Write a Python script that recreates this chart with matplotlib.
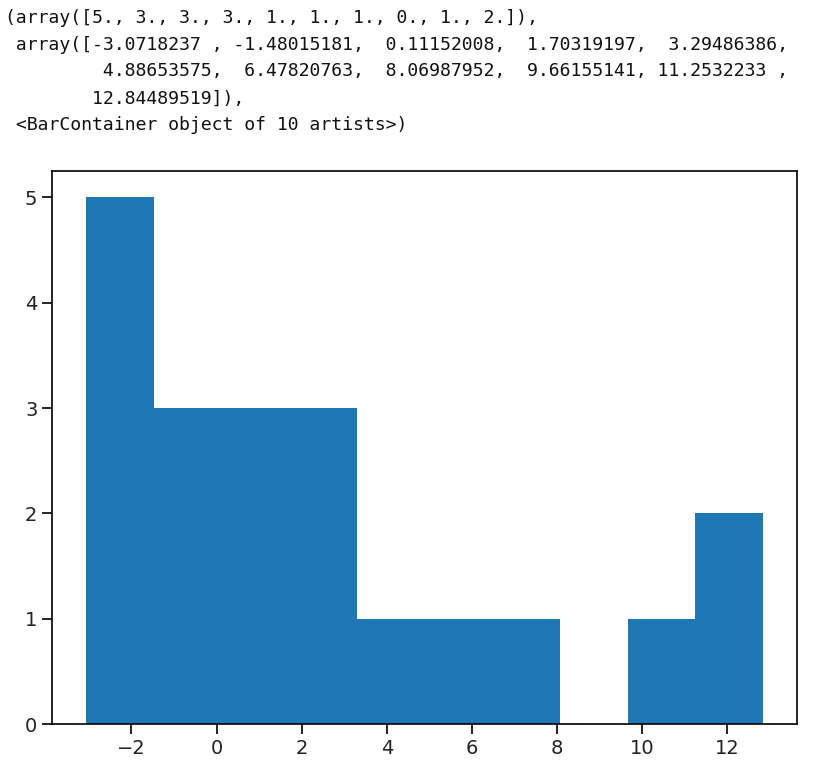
import matplotlib.pyplot as plt
import numpy as np

# histogram output (counts and bin edges)
counts = np.array([5., 3., 3., 3., 1., 1., 1., 0., 1., 2.])
edges = np.array([-3.0718237, -1.48015181, 0.11152008, 1.70319197, 3.29486386,
                  4.88653575, 6.47820763, 8.06987952, 9.66155141, 11.2532233,
                  12.84489519])

# notebook repr printed above the chart
out_lines = [
    "(array([5., 3., 3., 3., 1., 1., 1., 0., 1., 2.]),",
    " array([-3.0718237 , -1.48015181,  0.11152008,  1.70319197,  3.29486386,",
    "         4.88653575,  6.47820763,  8.06987952,  9.66155141, 11.2532233 ,",
    "        12.84489519]),",
    " <BarContainer object of 10 artists>)",
]

W, H = 829, 775
fig = plt.figure(figsize=(W / 100, H / 100), dpi=100)

for i, line in enumerate(out_lines):
    y = 18 + 26.75 * i
    fig.text(5 / W, 1 - y / H, line, family='DejaVu Sans Mono', fontsize=13.1,
             va='center', ha='left', color='#111111')

ax = fig.add_axes([52 / W, 51 / H, 745 / W, 553 / H])
ax.hist(edges[:-1], bins=edges, weights=counts, color='#1f77b4')

ax.tick_params(labelsize=14, length=7, width=1.2, labelcolor='#222222')
for s in ax.spines.values():
    s.set_linewidth(1.2)

fig.savefig('out.png', dpi=100)
